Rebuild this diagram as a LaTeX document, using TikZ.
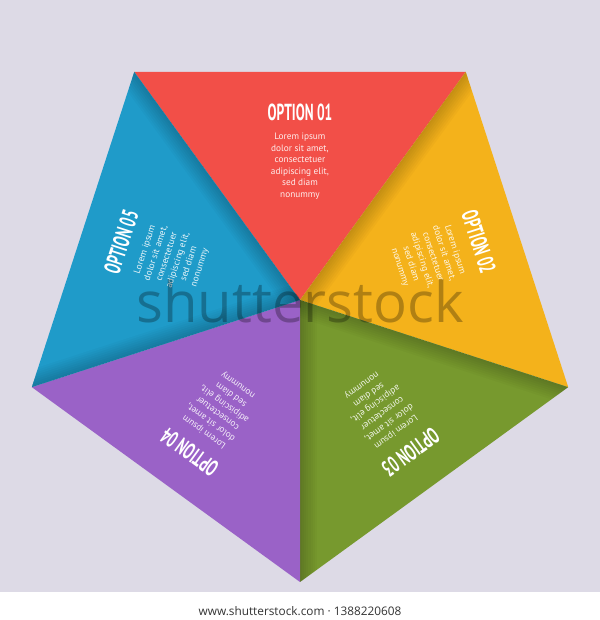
\documentclass[tikz,border=0pt]{standalone}
\usepackage{fontspec}
\usepackage{graphicx}
\setmainfont{Open Sans}
\newfontfamily\titlefont{PT Sans}
\newfontfamily\bodyfont{PT Sans}
\usetikzlibrary{calc}

\definecolor{bgpaper}{HTML}{DDDAE6}
\definecolor{optred}{HTML}{F24F48}
\definecolor{optyellow}{HTML}{F4B21B}
\definecolor{optgreen}{HTML}{77992E}
\definecolor{optpurple}{HTML}{9A62C7}
\definecolor{optblue}{HTML}{1F9BC9}
\definecolor{footgray}{HTML}{333333}

\tikzset{
  optitle/.style={text=white, inner sep=0pt, font=\titlefont\bfseries\fontsize{16.5}{16.5}\selectfont},
  optbody/.style={text=white, text opacity=0.9, inner sep=0pt, align=center, font=\bodyfont\fontsize{6.6}{8.2}\selectfont},
  shadowstrip/.style={fill=black, opacity=0.022},
}

\begin{document}
\begin{tikzpicture}[x=0.025cm, y=0.025cm]
\useasboundingbox (0,0) rectangle (600,620);

% paper and credit strip
\fill[bgpaper] (0,28) rectangle (600,620);
\fill[white] (0,0) rectangle (600,28);

% pentagon corners
\coordinate (ctr) at (300,320);
\coordinate (pTL) at ($(ctr)+(126:282)$);
\coordinate (pTR) at ($(ctr)+(54:282)$);
\coordinate (pR) at ($(ctr)+(-18:282)$);
\coordinate (pB) at ($(ctr)+(-90:282)$);
\coordinate (pL) at ($(ctr)+(198:282)$);

% sectors
\foreach \ang/\col in {90/optred, 18/optyellow, -54/optgreen, -126/optpurple, 162/optblue}
  \fill[\col] (ctr) -- ($(ctr)+(\ang+36:282)$) -- ($(ctr)+(\ang-36:282)$) -- cycle;

% shadow: red and purple on blue
\begin{scope}
\clip (ctr) -- (pL) -- (pTL) -- cycle;
\foreach \w in {1.5,3,...,12} {
  \fill[shadowstrip] ($(ctr)!\w pt!90:(pTL)$) -- ($(pTL)!\w pt!-90:(ctr)$) -- ($(pTL)!\w pt!90:(ctr)$) -- ($(ctr)!\w pt!-90:(pTL)$) -- cycle;
  \fill[shadowstrip] ($(ctr)!\w pt!90:(pL)$) -- ($(pL)!\w pt!-90:(ctr)$) -- ($(pL)!\w pt!90:(ctr)$) -- ($(ctr)!\w pt!-90:(pL)$) -- cycle;
}
\end{scope}

% shadow: red on yellow
\begin{scope}
\clip (ctr) -- (pTR) -- (pR) -- cycle;
\foreach \w in {1.5,3,...,12}
  \fill[shadowstrip] ($(ctr)!\w pt!90:(pTR)$) -- ($(pTR)!\w pt!-90:(ctr)$) -- ($(pTR)!\w pt!90:(ctr)$) -- ($(ctr)!\w pt!-90:(pTR)$) -- cycle;
\end{scope}

% shadow: yellow and purple on green
\begin{scope}
\clip (ctr) -- (pR) -- (pB) -- cycle;
\foreach \w in {1.5,3,...,12} {
  \fill[shadowstrip] ($(ctr)!\w pt!90:(pR)$) -- ($(pR)!\w pt!-90:(ctr)$) -- ($(pR)!\w pt!90:(ctr)$) -- ($(ctr)!\w pt!-90:(pR)$) -- cycle;
  \fill[shadowstrip] ($(ctr)!\w pt!90:(pB)$) -- ($(pB)!\w pt!-90:(ctr)$) -- ($(pB)!\w pt!90:(ctr)$) -- ($(ctr)!\w pt!-90:(pB)$) -- cycle;
}
\end{scope}

% titles and texts
\foreach \ang/\num in {90/1, 18/2, -54/3, -126/4, 162/5} {
  \node[optitle, rotate=\ang-90] (title\num) at ($(ctr)+(\ang:188)$) {\scalebox{0.58}[1]{OPTION 0\num}};
  \node[optbody, rotate=\ang-90] (body\num) at ($(ctr)+(\ang:134)$) {Lorem ipsum\\dolor sit amet,\\consectetuer\\adipiscing elit,\\sed diam\\nonummy};
}

% watermark
\node[text=black, opacity=0.28, anchor=base, font=\fontsize{40}{40}\selectfont] (mark) at (300,297) {shutterstock};

% credit
\node[text=footgray, anchor=base, font=\fontsize{8.4}{10}\selectfont] (credit) at (300,4) {www.shutterstock.com · 1388220608};

\end{tikzpicture}
\end{document}
